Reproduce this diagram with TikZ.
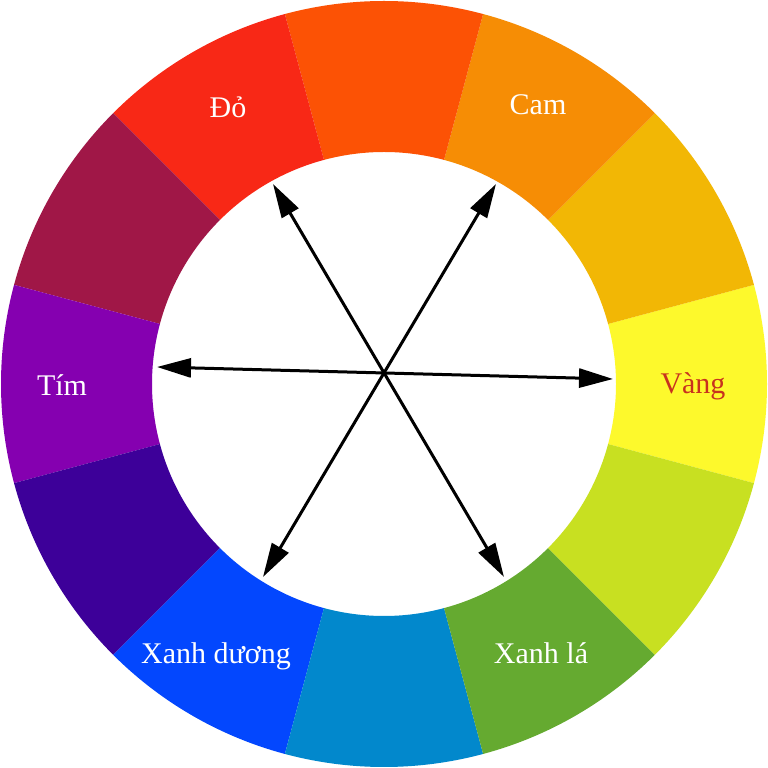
\documentclass[tikz,border=0pt]{standalone}
\usepackage{fontspec}
\setmainfont{Liberation Serif}
\usetikzlibrary{arrows.meta}
\definecolor{cY}{HTML}{FDF92C}
\definecolor{cYO}{HTML}{F2B705}
\definecolor{cO}{HTML}{F68D05}
\definecolor{cRO}{HTML}{FC5205}
\definecolor{cR}{HTML}{F82816}
\definecolor{cRV}{HTML}{A01747}
\definecolor{cV}{HTML}{8500B0}
\definecolor{cBV}{HTML}{3D0099}
\definecolor{cB}{HTML}{0347FE}
\definecolor{cBG}{HTML}{0288CC}
\definecolor{cG}{HTML}{65AA30}
\definecolor{cYG}{HTML}{C8E021}
\definecolor{vangtext}{HTML}{C8321E}
\tikzset{
  lbl/.style={font=\fontsize{30}{34}\selectfont, text=white, anchor=base, inner sep=0pt},
  arr/.style={line width=3pt, >={Triangle[length=34pt,width=19pt]}, <->}
}
\newcommand{\wheelseg}[2]{%
  \fill[#2] ({#1-15}:383) arc[start angle={#1-15}, end angle={#1+15}, radius=383]
    -- ({#1+15}:232) arc[start angle={#1+15}, end angle={#1-15}, radius=232] -- cycle;}
\begin{document}
\begin{tikzpicture}[x=1pt,y=1pt]
\useasboundingbox (0,0) rectangle (768,768);
\fill[white] (0,0) rectangle (768,768);
\begin{scope}[shift={(384,384)}]
\wheelseg{0}{cY}
\wheelseg{30}{cYO}
\wheelseg{60}{cO}
\wheelseg{90}{cRO}
\wheelseg{120}{cR}
\wheelseg{150}{cRV}
\wheelseg{180}{cV}
\wheelseg{210}{cBV}
\wheelseg{240}{cB}
\wheelseg{270}{cBG}
\wheelseg{300}{cG}
\wheelseg{330}{cYG}
\end{scope}
% arrow tips
\coordinate (tR) at (613,389);
\coordinate (tL) at (157,401);
\coordinate (tUL) at (273,584);
\coordinate (tUR) at (496,584);
\coordinate (tDL) at (263,191);
\coordinate (tDR) at (504,191);
\draw[arr] (tL) -- (tR);
\draw[arr] (tUL) -- (tDR);
\draw[arr] (tUR) -- (tDL);
% labels
\node[lbl] (do) at (228,650) {Đỏ};
\node[lbl] (cam) at (538,653) {Cam};
\node[lbl, text=vangtext] (vang) at (693,374) {Vàng};
\node[lbl] (tim) at (62,372) {Tím};
\node[lbl] (xd) at (216,104) {Xanh dương};
\node[lbl] (xl) at (541,104) {Xanh lá};
\end{tikzpicture}
\end{document}
